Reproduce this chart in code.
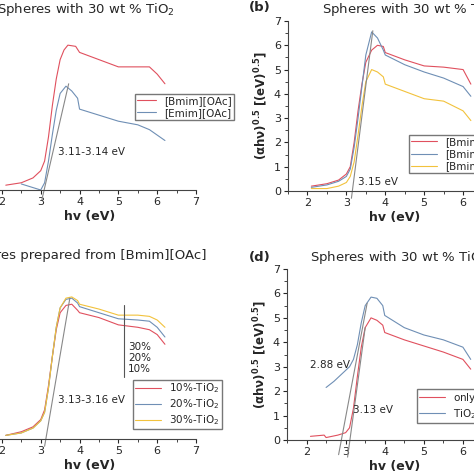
import numpy as np, pandas as pd, matplotlib
matplotlib.use("Agg")
import matplotlib.pyplot as plt, seaborn as sns
from matplotlib.ticker import AutoMinorLocator

sns.set_style("white")
plt.rcParams['font.family'] = ['DejaVu Sans']

RED, BLUE, YEL, GRAY = "#e0505e", "#6f8fb5", "#f2c23c", "#888888"

# Panel a
a_bm_x = [2.1,2.5,2.8,3.0,3.1,3.2,3.3,3.4,3.5,3.6,3.7,3.9,4.0,4.5,5.0,5.5,5.8,6.0,6.2]
a_bm_y = [0.2,0.3,0.5,0.8,1.2,2.2,3.5,4.6,5.4,5.8,6.0,5.95,5.7,5.4,5.1,5.1,5.1,4.8,4.4]
a_em_x = [2.5,2.8,3.0,3.1,3.2,3.3,3.4,3.5,3.65,3.8,3.95,4.0,4.5,5.0,5.5,5.8,6.2]
a_em_y = [0.25,0.1,0.0,0.3,1.2,2.3,3.3,4.0,4.3,4.1,3.8,3.35,3.1,2.85,2.7,2.5,2.05]
# Panel b
b_x = [2.1,2.5,2.8,3.0,3.1,3.2,3.3,3.4,3.5,3.65,3.8,3.95,4.0,4.5,5.0,5.5,6.0,6.2]
b_red = [0.2,0.3,0.45,0.7,1.0,2.0,3.3,4.4,5.3,5.8,6.0,5.95,5.7,5.4,5.15,5.1,5.0,4.4]
b_blue = [0.15,0.25,0.4,0.6,0.9,1.8,3.0,4.3,5.6,6.55,6.3,5.8,5.6,5.2,4.9,4.65,4.3,3.9]
b_yel = [0.1,0.1,0.2,0.35,0.6,1.2,2.3,3.5,4.5,5.0,4.9,4.7,4.4,4.1,3.8,3.7,3.3,2.9]
# Panel c
c_x = [2.1,2.5,2.8,3.0,3.1,3.2,3.3,3.4,3.5,3.65,3.8,3.95,4.0,4.5,5.0,5.5,5.8,6.0,6.2]
c_10 = [0.15,0.3,0.5,0.8,1.2,2.2,3.4,4.5,5.2,5.5,5.55,5.3,5.2,5.0,4.7,4.6,4.5,4.3,3.9]
c_20 = [0.15,0.25,0.45,0.75,1.1,2.1,3.4,4.6,5.4,5.75,5.8,5.6,5.45,5.2,4.95,4.9,4.85,4.6,4.2]
c_30 = [0.15,0.25,0.45,0.75,1.1,2.1,3.4,4.6,5.4,5.8,5.85,5.7,5.55,5.35,5.1,5.1,5.05,4.9,4.6]
# Panel d
d_red_x = [2.1,2.45,2.5,2.8,3.0,3.1,3.2,3.3,3.4,3.5,3.65,3.8,3.95,4.0,4.5,5.0,5.5,6.0,6.2]
d_red_y = [0.15,0.2,0.1,0.2,0.3,0.5,1.3,2.6,3.8,4.6,5.0,4.9,4.7,4.4,4.1,3.85,3.6,3.3,2.9]
d_blu_x = [2.5,2.7,2.9,3.1,3.2,3.3,3.4,3.5,3.65,3.8,3.95,4.0,4.5,5.0,5.5,6.0,6.2]
d_blu_y = [2.15,2.4,2.7,3.0,3.3,3.9,4.8,5.5,5.85,5.8,5.5,5.1,4.6,4.3,4.1,3.8,3.3]

W = 474
def ax_px(l, r, t, b):
    return fig.add_axes([l/W, (W-b)/W, (r-l)/W, (b-t)/W])

fig = plt.figure(figsize=(4.74, 4.74), dpi=100)

def style(ax, yaxis):
    ax.set_xlim(1.5, 7); ax.set_ylim(0, 7)
    ax.set_xticks([2,3,4,5,6,7]); ax.set_yticks(range(8))
    ax.xaxis.set_minor_locator(AutoMinorLocator(2)); ax.yaxis.set_minor_locator(AutoMinorLocator(2))
    ax.tick_params(which='both', direction='out', length=3, labelsize=8, pad=2, bottom=True, left=yaxis)
    ax.tick_params(which='minor', length=2)
    for s in ['top','right']: ax.spines[s].set_visible(False)
    ax.spines['left'].set_visible(yaxis)
    for s in ax.spines.values(): s.set_color('#444'); s.set_linewidth(0.8)
    ax.set_xlabel('hv (eV)', fontweight='bold', fontsize=9, labelpad=2)
    if yaxis:
        ax.set_ylabel(r'$\mathbf{(\alpha h\nu)^{0.5}\ [(eV)^{0.5}]}$', fontsize=8.5, labelpad=3)
    else:
        ax.set_yticklabels([])

def line(ax, x, y, c, lab):
    sns.lineplot(x=x, y=y, ax=ax, color=c, lw=0.8, label=lab, sort=False)

TF = 9.5
# a
ax = ax_px(-17.5, 196, 21, 190)
line(ax, a_bm_x, a_bm_y, RED, '[Bmim][OAc]')
line(ax, a_em_x, a_em_y, BLUE, '[Emim][OAc]')
ax.plot([3.03, 3.72], [-0.4, 4.4], color=GRAY, lw=0.8, clip_on=False)
ax.text(3.45, 1.45, '3.11-3.14 eV', fontsize=7.5)
style(ax, False)
ax.legend(loc='upper left', bbox_to_anchor=(0.69, 0.6), fontsize=7.5, frameon=True, fancybox=False,
          edgecolor='#555', borderpad=0.2, handlelength=1.8, labelspacing=0.2)
fig.text(175/W, 1-9/W, r'Spheres with 30 wt % TiO$_2$', ha='right', va='center', fontsize=TF)

# b
ax = ax_px(288, 502, 21, 191)
line(ax, b_x, b_red, RED, '[Bmim][OAc]')
line(ax, b_x, b_blue, BLUE, '[Bmim][OAc]:DMSO')
line(ax, b_x, b_yel, YEL, '[Bmim][OAc]:DMF')
ax.plot([3.13, 3.68], [-0.3, 6.6], color=GRAY, lw=0.8, clip_on=False)
ax.text(3.3, 0.25, '3.15 eV', fontsize=7.5)
style(ax, True)
ax.legend(loc='upper left', bbox_to_anchor=(0.54, 0.36), fontsize=7.5, frameon=True, fancybox=False,
          edgecolor='#555', borderpad=0.2, handlelength=2.5, labelspacing=0.2)
fig.text(249/W, 1-7/W, '(b)', ha='left', va='center', fontsize=TF, fontweight='bold')
fig.text(322/W, 1-9/W, r'Spheres with 30 wt % TiO$_2$', ha='left', va='center', fontsize=TF)

# c
ax = ax_px(-17.5, 196, 269, 439)
line(ax, c_x, c_10, RED, r'10%-TiO$_2$')
line(ax, c_x, c_20, BLUE, r'20%-TiO$_2$')
line(ax, c_x, c_30, YEL, r'30%-TiO$_2$')
ax.plot([3.1, 3.75], [-0.3, 5.8], color=GRAY, lw=0.8, clip_on=False)
ax.plot([5.15, 5.15], [2.55, 5.5], color='#555', lw=0.8)
for t, yy in [('30%', 3.8), ('20%', 3.35), ('10%', 2.9)]:
    ax.text(5.25, yy, t, fontsize=7.5, va='center')
ax.text(3.45, 1.5, '3.13-3.16 eV', fontsize=7.5)
style(ax, False)
ax.legend(loc='upper left', bbox_to_anchor=(0.68, 0.38), fontsize=7.5, frameon=True, fancybox=False,
          edgecolor='#555', borderpad=0.2, handlelength=2.5, labelspacing=0.2)
fig.text(207/W, 1-255/W, 'Spheres prepared from [Bmim][OAc]', ha='right', va='center', fontsize=TF)

# d
ax = ax_px(287, 502, 269, 440)
line(ax, d_red_x, d_red_y, RED, r'only TiO$_2$')
line(ax, d_blu_x, d_blu_y, BLUE, r'TiO$_2$+7.5 wt%')
ax.plot([2.82, 3.55], [-0.6, 5.6], color=GRAY, lw=0.8, clip_on=False)
ax.plot([3.05, 3.5], [-0.7, 4.6], color=GRAY, lw=0.8, clip_on=False)
ax.text(2.1, 2.95, '2.88 eV', fontsize=7.5)
ax.text(3.2, 1.1, '3.13 eV', fontsize=7.5)
style(ax, True)
ax.legend(loc='upper left', bbox_to_anchor=(0.58, 0.33), fontsize=7.5, frameon=True, fancybox=False,
          edgecolor='#555', borderpad=0.2, handlelength=2.5, labelspacing=0.2)
fig.text(249/W, 1-257/W, '(d)', ha='left', va='center', fontsize=TF, fontweight='bold')
fig.text(310/W, 1-257/W, r'Spheres with 30 wt % TiO$_2$', ha='left', va='center', fontsize=TF)

fig.savefig('out.png', dpi=100)
